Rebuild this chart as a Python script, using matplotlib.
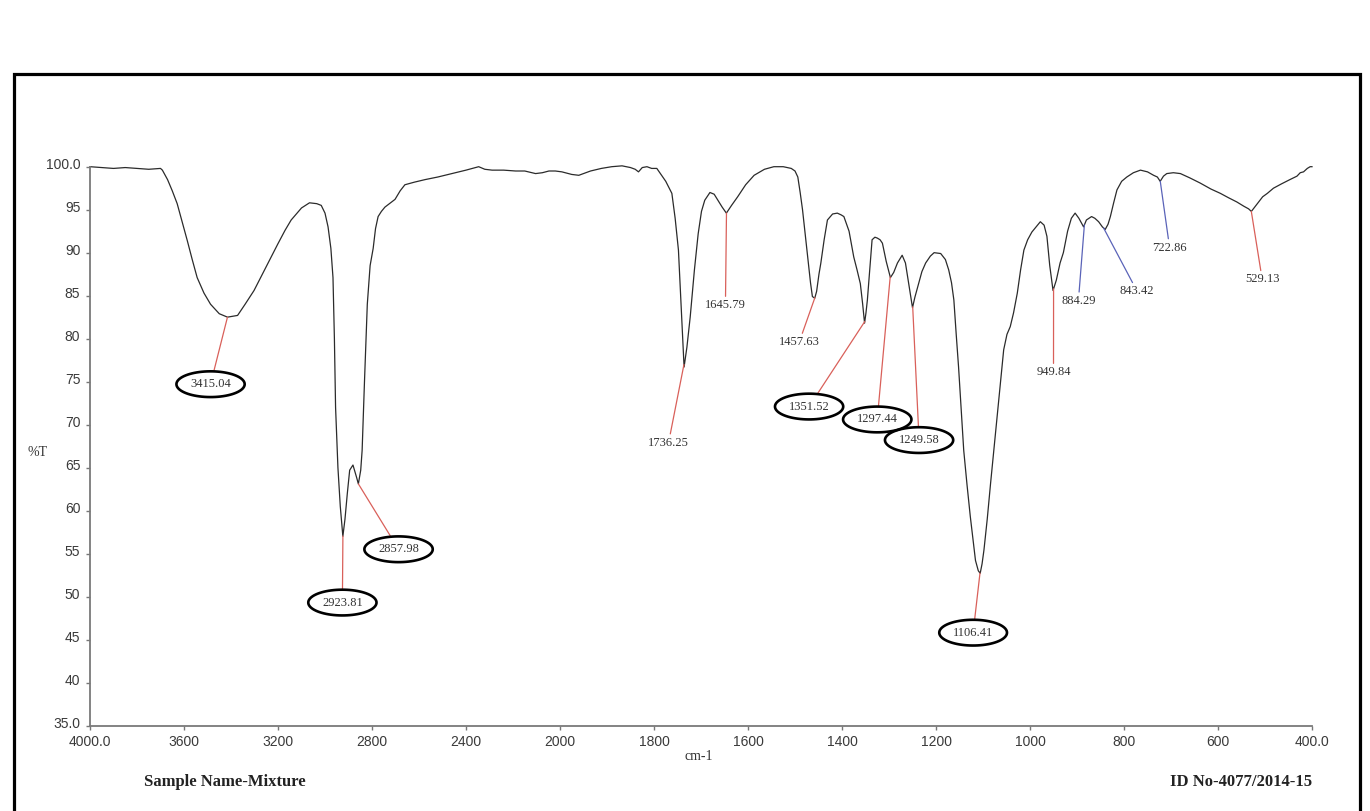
import matplotlib
matplotlib.use('Agg')
import matplotlib.pyplot as plt
import matplotlib.transforms as mtransforms
import numpy as np
from matplotlib.path import Path
from matplotlib.patches import Rectangle

# spectrum (cm-1, %T)
wavenumber = [4000, 3950, 3900, 3850, 3800, 3750, 3700, 3692, 3670, 3650, 3629, 3607, 3586, 3565,
              3544, 3515, 3487, 3450, 3415, 3372, 3340, 3302, 3270, 3244, 3201, 3170, 3144, 3100,
              3066, 3035, 3016, 3000, 2987, 2975, 2966, 2960, 2955, 2945, 2935, 2924, 2915, 2905,
              2895, 2881, 2866, 2858, 2848, 2842, 2832, 2820, 2808, 2795, 2785, 2774, 2760, 2745,
              2702, 2680, 2660, 2620, 2574, 2520, 2460, 2400, 2346, 2320, 2289, 2240, 2189, 2150,
              2104, 2075, 2047, 2020, 1996, 1975, 1960, 1935, 1912, 1890, 1868, 1850, 1840, 1833,
              1825, 1815, 1805, 1794, 1784, 1775, 1762, 1755, 1748, 1741, 1736, 1730, 1723, 1714,
              1706, 1699, 1692, 1681, 1672, 1664, 1655, 1646, 1635, 1622, 1605, 1587, 1565, 1545,
              1525, 1508, 1500, 1494, 1489, 1484, 1478, 1473, 1467, 1463, 1458, 1454, 1449, 1445,
              1438, 1431, 1420, 1410, 1402, 1396, 1385, 1375, 1368, 1361, 1356, 1352, 1349, 1346,
              1341, 1336, 1330, 1325, 1319, 1314, 1306, 1297, 1290, 1282, 1272, 1265, 1257, 1250,
              1245, 1239, 1230, 1222, 1212, 1204, 1190, 1180, 1173, 1167, 1162, 1157, 1152, 1146,
              1141, 1134, 1127, 1121, 1116, 1110, 1106, 1102, 1098, 1091, 1084, 1077, 1070, 1063,
              1056, 1049, 1042, 1035, 1027, 1020, 1013, 1005, 996, 987, 978, 970, 964, 958,
              951, 944, 936, 929, 920, 912, 904, 896, 886, 880, 869, 862, 854, 846,
              840, 834, 829, 822, 815, 805, 794, 780, 765, 750, 737, 729, 723, 716,
              709, 695, 680, 660, 638, 615, 595, 578, 560, 545, 535, 529, 522, 515,
              505, 495, 482, 465, 447, 432, 425, 418, 410, 404, 400]
transmittance = [100.0, 99.9, 99.8, 99.9, 99.8, 99.7, 99.8, 99.6, 98.5, 97.2, 95.7, 93.5, 91.4, 89.2,
                 87.1, 85.3, 84.0, 82.9, 82.5, 82.7, 84.0, 85.6, 87.3, 88.7, 91.0, 92.6, 93.8, 95.2,
                 95.8, 95.7, 95.5, 94.6, 93.0, 90.5, 87.1, 80.0, 72.0, 65.0, 60.5, 57.0, 59.0, 62.0,
                 64.7, 65.3, 63.9, 63.1, 64.7, 67.0, 75.0, 84.0, 88.5, 90.5, 92.8, 94.2, 94.8, 95.3,
                 96.2, 97.2, 97.9, 98.2, 98.5, 98.8, 99.2, 99.6, 100.0, 99.7, 99.6, 99.6, 99.5, 99.5,
                 99.2, 99.3, 99.5, 99.5, 99.4, 99.1, 99.0, 99.5, 99.8, 100.0, 100.1, 99.9, 99.7, 99.4,
                 99.9, 100.0, 99.8, 99.8, 99.0, 98.3, 96.9, 94.0, 90.3, 82.5, 76.7, 79.0, 82.5, 88.0,
                 92.2, 94.8, 96.1, 97.0, 96.8, 96.1, 95.3, 94.6, 95.5, 96.5, 97.9, 99.0, 99.7, 100.0,
                 100.0, 99.8, 99.5, 98.8, 97.0, 95.0, 92.0, 89.5, 86.5, 84.9, 84.7, 85.5, 87.5, 88.8,
                 91.5, 93.8, 94.5, 94.6, 94.4, 94.2, 92.5, 89.5, 88.0, 86.4, 84.0, 81.8, 83.0, 84.5,
                 88.0, 91.5, 91.8, 91.7, 91.5, 91.1, 89.0, 87.1, 87.7, 88.8, 89.7, 88.8, 86.0, 83.6,
                 84.8, 86.0, 87.8, 88.8, 89.6, 90.0, 89.9, 89.2, 88.0, 86.5, 84.5, 80.5, 76.7, 71.5,
                 67.0, 63.0, 59.3, 56.5, 54.2, 53.0, 52.7, 53.8, 55.4, 59.0, 63.1, 67.0, 70.9, 74.8,
                 78.7, 80.5, 81.4, 83.0, 85.3, 88.0, 90.3, 91.5, 92.4, 93.0, 93.6, 93.2, 91.9, 88.5,
                 85.6, 86.8, 88.8, 90.0, 92.5, 94.0, 94.6, 94.0, 93.0, 93.8, 94.2, 94.0, 93.6, 93.0,
                 92.7, 93.3, 94.2, 95.8, 97.3, 98.3, 98.8, 99.3, 99.6, 99.4, 99.0, 98.8, 98.3, 98.9,
                 99.2, 99.3, 99.2, 98.7, 98.1, 97.4, 96.9, 96.4, 95.9, 95.4, 95.1, 94.8, 95.3, 95.8,
                 96.5, 96.9, 97.5, 98.0, 98.5, 98.9, 99.3, 99.4, 99.8, 100.0, 100.0]

# peak labels
peak_wn = [3415.04, 2923.81, 2857.98, 1736.25, 1645.79, 1457.63, 1351.52, 1297.44,
           1249.58, 1106.41, 949.84, 884.29, 843.42, 722.86, 529.13]
peak_circled = [True, True, True, False, False, False, True, True,
                True, True, False, False, False, False, False]
peak_line_color = ['r', 'r', 'r', 'r', 'r', 'r', 'r', 'r', 'r', 'r', 'r', 'b', 'b', 'b', 'r']
# where the label text sits (cm-1, %T)
label_pos = [(3487, 74.7), (2926, 49.3), (2687, 55.5), (1769, 67.9), (1648, 83.9),
             (1491, 79.6), (1470, 72.1), (1325, 70.6), (1236, 68.2), (1121, 45.8),
             (950, 76.1), (897, 84.4), (772, 85.5), (703, 90.6), (506, 86.9)]

xticks = [4000, 3600, 3200, 2800, 2400, 2000, 1800, 1600, 1400, 1200, 1000, 800, 600, 400]
xtick_labels = ['4000.0', '3600', '3200', '2800', '2400', '2000', '1800', '1600',
                '1400', '1200', '1000', '800', '600', '400.0']
yticks = [35, 40, 45, 50, 55, 60, 65, 70, 75, 80, 85, 90, 95, 100]
ytick_labels = ['35.0', '40', '45', '50', '55', '60', '65', '70', '75', '80', '85',
                '90', '95', '100.0']

line_colors = {'r': '#d9605a', 'b': '#5a63b8'}


def fwd(x):
    # scale doubles below 2000 cm-1
    x = np.asarray(x, dtype=float)
    return np.where(x >= 2000, x, 2 * x - 2000)


def inv(t):
    t = np.asarray(t, dtype=float)
    return np.where(t >= 2000, t, (t + 2000) / 2)


def ellipse_box(x0, y0, width, height, mutation_size):
    cx, cy = x0 + width / 2, y0 + height / 2
    a = width / 2 + 1.1 * mutation_size
    b = height / 2 + 0.55 * mutation_size
    th = np.linspace(0, 2 * np.pi, 80)
    verts = np.column_stack([cx + a * np.cos(th), cy + b * np.sin(th)])
    return Path(verts, closed=True)


def main():
    fig = plt.figure(figsize=(13.7, 8.11), dpi=100)
    ax = fig.add_axes([90 / 1370, (811 - 725.5) / 811, 1222 / 1370, 558.8 / 811])

    ax.set_xscale('function', functions=(fwd, inv))
    ax.set_xlim(4000, 400)
    ax.set_ylim(35, 100)

    ax.plot(wavenumber, transmittance, color='#2b2b2b', lw=0.9, clip_on=False)

    ax.spines[['top', 'right']].set_visible(False)
    for s in ['left', 'bottom']:
        ax.spines[s].set_color('#7a7a7a')
        ax.spines[s].set_linewidth(1.3)

    ax.set_xticks(xticks)
    ax.set_xticklabels(xtick_labels)
    ax.set_yticks(yticks)
    ax.set_yticklabels(ytick_labels)
    ax.xaxis.set_minor_locator(matplotlib.ticker.NullLocator())
    ax.tick_params(axis='both', direction='out', length=3, width=1, color='#777777',
                   labelsize=10, labelcolor='#3a3a3a')
    ax.tick_params(axis='y', pad=4)
    for lab in ax.get_xticklabels() + ax.get_yticklabels():
        lab.set_family('Liberation Sans')
    shift = mtransforms.ScaledTranslation(0, 3 / 100, fig.dpi_scale_trans)
    for lab in ax.get_yticklabels():
        lab.set_transform(lab.get_transform() + shift)

    # peak annotations
    wn_up = wavenumber[::-1]
    t_up = transmittance[::-1]
    for wn, circ, col, pos in zip(peak_wn, peak_circled, peak_line_color, label_pos):
        t_peak = np.interp(wn, wn_up, t_up)
        kw = dict(xy=(wn, t_peak), xytext=pos, ha='center', va='center',
                  fontsize=9, family='Liberation Serif', color='#333333',
                  arrowprops=dict(arrowstyle='-', color=line_colors[col], lw=0.9,
                                  shrinkA=0, shrinkB=0))
        if circ:
            kw['bbox'] = dict(boxstyle=ellipse_box, fc='none', ec='black', lw=1.9)
        ax.annotate('%.2f' % wn, **kw)

    fig.text(37 / 1370, 1 - 453 / 811, '%T', family='Liberation Serif', fontsize=10,
             color='#333333', ha='center', va='center')
    fig.text(699 / 1370, 1 - 757 / 811, 'cm-1', family='Liberation Serif', fontsize=10,
             color='#333333', ha='center', va='center')
    fig.text(144 / 1370, 1 - 782 / 811, 'Sample Name-Mixture', family='Liberation Serif',
             fontsize=12, weight='bold', color='#222222', ha='left', va='center')
    fig.text(1312 / 1370, 1 - 782 / 811, 'ID No-4077/2014-15', family='Liberation Serif',
             fontsize=12, weight='bold', color='#222222', ha='right', va='center')

    # outer frame, open at the bottom edge of the picture
    fig.patches.append(Rectangle((14 / 1370, -0.05), (1360 - 14) / 1370, (811 - 74) / 811 + 0.05,
                                 transform=fig.transFigure, fill=False, lw=2.3, ec='black'))

    fig.savefig('out.png', dpi=100)


if __name__ == "__main__":
    main()
